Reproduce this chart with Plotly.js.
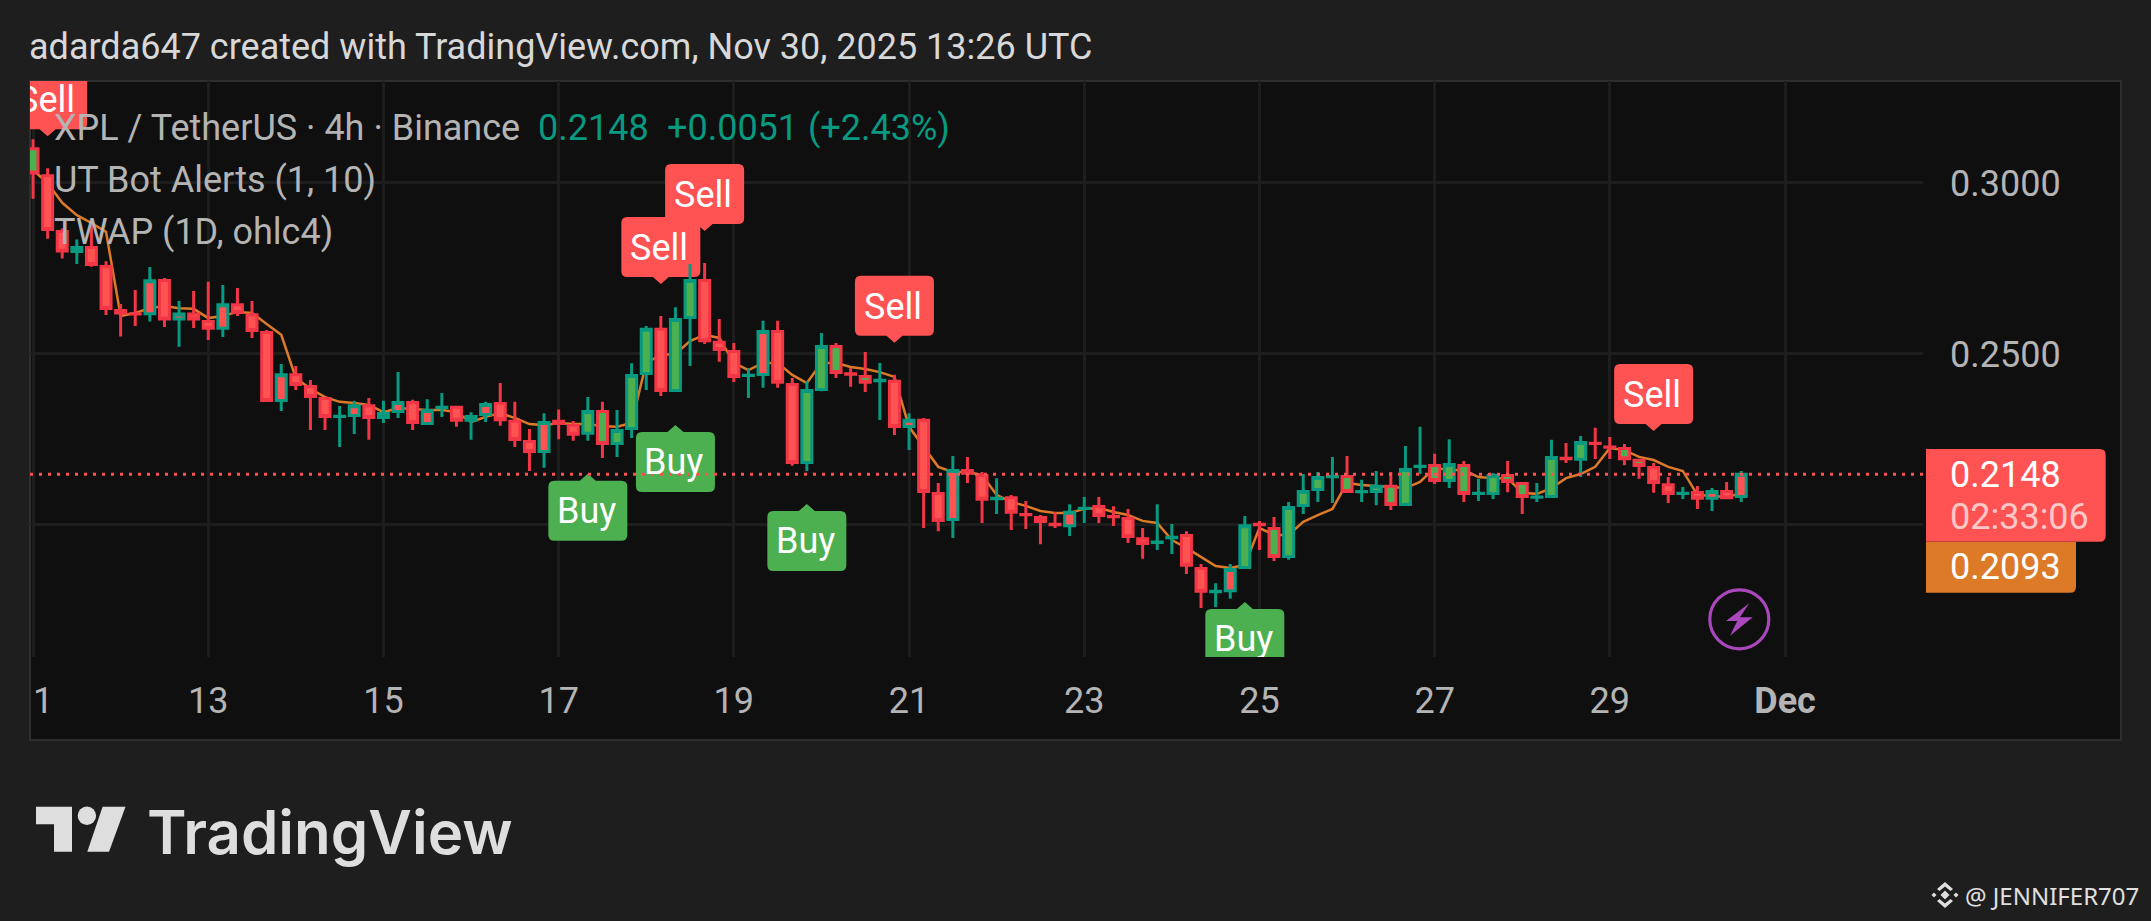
<!DOCTYPE html>
<html><head><meta charset="utf-8">
<script src="https://cdn.plot.ly/plotly-3.0.1.min.js"></script>
<style>html,body{margin:0;padding:0;background:#1e1e1e;overflow:hidden}</style></head>
<body><div id="chart" style="width:2151px;height:921px"></div>
<script>
// ---------- data (4h bars from 2025-11-11 00:00 UTC) ----------
const open = [.3100,.3021,.2858,.2800,.2811,.2756,.2627,.2618,.2618,.2715,.2602,.2617,.2595,.2575,.2644,.2615,.2563,.2364,.2439,.2405,
.2370,.2317,.2320,.2349,.2314,.2332,.2358,.2297,.2343,.2344,.2306,.2323,.2355,.2303,.2244,.2215,.2303,.2291,.2268,.2332,
.2238,.2282,.2443,.2572,.2393,.2607,.2715,.2534,.2507,.2437,.2440,.2566,.2411,.2183,.2396,.2522,.2442,.2434,.2422,.2420,
.2288,.2306,.2092,.2016,.2159,.2145,.2077,.2080,.2031,.2022,.2002,.1998,.2048,.2054,.2025,.2019,.1960,.1949,.1963,.1969,
.1873,.1805,.1808,.1876,.2002,.1990,.1908,.2057,.2104,.2141,.2142,.2097,.2098,.2113,.2060,.2171,.2174,.2130,.2174,.2092,
.2092,.2145,.2121,.2081,.2083,.2195,.2192,.2239,.2228,.2224,.2189,.2168,.2118,.2092,.2095,.2078,.2098,.2083];
const high = [.3128,.3043,.2867,.2835,.2882,.2771,.2646,.2687,.2754,.2722,.2655,.2684,.2711,.2702,.2693,.2655,.2570,.2471,.2465,.2424,
.2374,.2348,.2363,.2371,.2363,.2447,.2366,.2368,.2386,.2348,.2330,.2360,.2415,.2360,.2281,.2327,.2338,.2304,.2374,.2360,
.2336,.2473,.2582,.2611,.2637,.2763,.2766,.2602,.2532,.2459,.2597,.2597,.2430,.2421,.2561,.2532,.2459,.2506,.2474,.2439,
.2327,.2313,.2123,.2202,.2199,.2155,.2137,.2088,.2070,.2029,.2038,.2061,.2082,.2082,.2055,.2047,.1991,.2061,.2003,.1982,
.1886,.1830,.1886,.2026,.2012,.2023,.2067,.2149,.2155,.2199,.2202,.2132,.2158,.2155,.2231,.2287,.2208,.2251,.2187,.2135,
.2152,.2187,.2126,.2123,.2249,.2240,.2260,.2284,.2257,.2237,.2193,.2181,.2140,.2111,.2114,.2108,.2126,.2158];
const low = [.2954,.2837,.2779,.2763,.2755,.2614,.2551,.2582,.2595,.2579,.2521,.2576,.2541,.2550,.2611,.2547,.2360,.2333,.2395,.2278,
.2278,.2228,.2266,.2249,.2298,.2313,.2278,.2293,.2316,.2287,.2249,.2301,.2290,.2228,.2158,.2167,.2251,.2246,.2246,.2196,
.2199,.2254,.2395,.2377,.2389,.2465,.2529,.2477,.2418,.2371,.2401,.2401,.2173,.2158,.2391,.2430,.2404,.2389,.2307,.2263,
.2219,.1991,.1982,.1962,.2123,.2006,.2032,.1985,.1988,.1944,.1991,.1968,.2006,.2006,.1997,.1947,.1901,.1927,.1915,.1857,
.1757,.1760,.1784,.1871,.1927,.1895,.1898,.2032,.2067,.2064,.2094,.2067,.2058,.2044,.2056,.2149,.2120,.2108,.2067,.2070,
.2076,.2096,.2032,.2067,.2079,.2181,.2140,.2193,.2193,.2175,.2135,.2094,.2064,.2076,.2047,.2041,.2076,.2067];
const close = [.3029,.2864,.2801,.2811,.2762,.2633,.2620,.2617,.2714,.2602,.2617,.2602,.2575,.2644,.2621,.2569,.2364,.2439,.2411,.2376,
.2317,.2318,.2349,.2314,.2326,.2358,.2300,.2335,.2344,.2306,.2317,.2352,.2308,.2250,.2215,.2300,.2297,.2265,.2332,.2238,
.2276,.2437,.2572,.2393,.2601,.2715,.2539,.2513,.2434,.2438,.2566,.2417,.2183,.2393,.2522,.2446,.2441,.2417,.2423,.2288,
.2306,.2098,.2013,.2159,.2151,.2075,.2078,.2037,.2030,.2010,.2001,.2037,.2049,.2028,.2024,.1966,.1946,.1950,.1964,.1882,
.1806,.1806,.1870,.1998,.2001,.1908,.2051,.2098,.2139,.2142,.2098,.2098,.2113,.2060,.2162,.2172,.2130,.2177,.2092,.2093,
.2145,.2127,.2083,.2082,.2197,.2194,.2241,.2238,.2227,.2194,.2174,.2124,.2092,.2093,.2078,.2098,.2080,.2148];
const twap = [.3038,.3000,.2942,.2906,.2883,.2857,.2611,.2620,.2634,.2640,.2634,.2632,.2605,.2611,.2623,.2620,.2588,.2556,.2430,.2398,
.2374,.2360,.2357,.2351,.2330,.2342,.2339,.2336,.2336,.2330,.2301,.2316,.2327,.2313,.2295,.2292,.2298,.2295,.2295,.2289,
.2287,.2298,.2474,.2497,.2500,.2538,.2556,.2547,.2474,.2453,.2474,.2474,.2439,.2415,.2474,.2474,.2462,.2456,.2447,.2433,
.2287,.2228,.2170,.2155,.2155,.2146,.2088,.2067,.2056,.2041,.2035,.2035,.2047,.2050,.2038,.2029,.2012,.2006,.1956,.1933,
.1906,.1880,.1874,.1883,.1991,.1971,.1971,.2009,.2029,.2047,.2123,.2117,.2114,.2111,.2108,.2126,.2167,.2161,.2161,.2140,
.2137,.2137,.2094,.2091,.2108,.2137,.2149,.2170,.2225,.2219,.2199,.2190,.2170,.2158,.2088,.2085,.2082,.2093];
const sellBars = [1,43,46,59,111];
const buyBars = [38,44,53,83];
const lastPrice = .2148, twapPrice = .2093;
const xTickDates = ['2025-11-11','2025-11-13','2025-11-15','2025-11-17','2025-11-19','2025-11-21','2025-11-23','2025-11-25','2025-11-27','2025-11-29','2025-12-01'];
const xTickText = ['\u20071','13','15','17','19','21','23','25','27','29','<b>Dec</b>'];
const yTicks = [.2,.25,.3];
const yTickText = ['','0.2500','0.3000'];

// ---------- layout helpers (pixels of the 2151x921 page) ----------
const L=30,T=81,R=1923,B=657, PW=R-L, PH=B-T;
const px=x=>(x-L)/PW, py=y=>(B-y)/PH;
const C={paper:'#1e1e1e',pane:'#0f0f0f',grid:'#1d1d1d',frame:'#2e2e2e',axis:'#b4b4b4',title:'#d8d8d8',
 teal:'#089981',red:'#f23645',green:'#4caf50',sell:'#ff5252',orange:'#dc7a28',purple:'#ab47bc',logo:'#dedede'};
const FONT='Roboto, sans-serif';
const times = open.map((_,i)=>new Date(Date.UTC(2025,10,11)+i*4*3600e3).toISOString().slice(0,16).replace('T',' '));
const xRange=['2025-11-10 23:10','2025-12-02 13:48'];

function rr(x0,y0,x1,y1,tl,tr,br,bl){ // rounded box as a paper-coordinate path
 const p=(x,y)=>px(x).toFixed(6)+' '+py(y).toFixed(6);
 return 'M'+p(x0+tl,y0)+' L'+p(x1-tr,y0)+' Q'+p(x1,y0)+' '+p(x1,y0+tr)+' L'+p(x1,y1-br)+' Q'+p(x1,y1)+' '+p(x1-br,y1)+
  ' L'+p(x0+bl,y1)+' Q'+p(x0,y1)+' '+p(x0,y1-bl)+' L'+p(x0,y0+tl)+' Q'+p(x0,y0)+' '+p(x0+tl,y0)+' Z';
}
function poly(pts){return 'M'+pts.map(q=>px(q[0]).toFixed(6)+' '+py(q[1]).toFixed(6)).join(' L')+' Z';}
function paperShape(path,fill){return {type:'path',xref:'paper',yref:'paper',path,fillcolor:fill,line:{width:0},layer:'below'};}
function signalPath(s){ // s=+1 label above the anchor, s=-1 below; pixel units from the bar's high/low
 const g=s>0?32:33,h=7,H=60,w=39.5,r=6;
 const p=(x,y)=>x+' '+(s*y);
 return 'M'+p(0,g)+' L'+p(8,g+h)+' L'+p(w-r,g+h)+' Q'+p(w,g+h)+' '+p(w,g+h+r)+' L'+p(w,g+h+H-r)+' Q'+p(w,g+h+H)+' '+p(w-r,g+h+H)+
 ' L'+p(-w+r,g+h+H)+' Q'+p(-w,g+h+H)+' '+p(-w,g+h+H-r)+' L'+p(-w,g+h+r)+' Q'+p(-w,g+h)+' '+p(-w+r,g+h)+' L'+p(-8,g+h)+' Z';
}
function signalShape(i,s){
 return {type:'path',xref:'x',yref:'y',xsizemode:'pixel',ysizemode:'pixel',xanchor:times[i],yanchor:s>0?high[i]:low[i],
  path:signalPath(s),fillcolor:s>0?C.sell:C.green,line:{width:0},layer:'between'};
}
function signalText(i,s){
 return {xref:'x',yref:'y',x:times[i],y:s>0?high[i]:low[i],xshift:-1.5,yshift:s>0?68:-70,text:s>0?'Sell':'Buy',showarrow:false,
  xanchor:'center',yanchor:'middle',font:{family:FONT,size:36,color:'#ffffff'}};
}
function label(x,y,text,size,color,anchor,extra){
 return Object.assign({xref:'paper',yref:'paper',x:px(x),y:py(y),text,showarrow:false,xanchor:anchor||'left',yanchor:'middle',
  font:{family:FONT,size,color},borderpad:0,borderwidth:0},extra||{});
}

// ---------- candles: wick/border colour follows bar direction, body colour follows the UT Bot state ----------
const signals=[...sellBars.map(i=>[i,'R']),...buyBars.map(i=>[i,'G'])].sort((a,b)=>a[0]-b[0]);
const stateOf=i=>{let st='G';for(const [k,v] of signals){if(k<=i)st=v;}return st;};
function candleTrace(state,fill){
 const id=times.map((_,i)=>i).filter(i=>stateOf(i)===state);
 const pick=a=>id.map(i=>a[i]);
 return {type:'candlestick',x:pick(times),open:pick(open),high:pick(high),low:pick(low),close:pick(close),
  increasing:{line:{color:C.teal,width:3},fillcolor:fill},decreasing:{line:{color:C.red,width:3},fillcolor:fill},
  whiskerwidth:0,hoverinfo:'skip',showlegend:false,zorder:1};
}
const traces=[
 {type:'scatter',mode:'lines',x:times,y:twap,line:{color:C.orange,width:2.5},hoverinfo:'skip',showlegend:false,zorder:0},
 candleTrace('G',C.green),
 candleTrace('R',C.sell),
 {type:'scatter',mode:'lines',x:xRange,y:[lastPrice,lastPrice],line:{color:C.sell,width:3,dash:'3px,6px'},hoverinfo:'skip',showlegend:false,zorder:2}
];

const boltPts=[[1749.3,603.3],[1726,621],[1737.3,621],[1730,635.7],[1752.7,617.3],[1740,617.3]];
const shapes=[
 {type:'rect',xref:'paper',yref:'paper',x0:px(30),x1:px(2121),y0:py(740),y1:py(81),fillcolor:C.pane,line:{color:C.frame,width:2},layer:'below'},
 ...sellBars.map(i=>signalShape(i,1)),
 ...buyBars.map(i=>signalShape(i,-1)),
 paperShape(rr(1926,449,2105.7,541.7,0,6,6,0),C.sell),
 paperShape(rr(1926,542,2076,592.7,0,0,6,0),C.orange),
 {type:'circle',xref:'paper',yref:'paper',x0:px(1739.3-29.5),x1:px(1739.3+29.5),y0:py(619.3+29.5),y1:py(619.3-29.5),
  line:{color:C.purple,width:3.2},fillcolor:'rgba(0,0,0,0)',layer:'above'},
 {type:'path',xref:'paper',yref:'paper',path:poly(boltPts),fillcolor:C.purple,line:{width:0},layer:'above'},
 // TradingView mark
 paperShape(poly([[36,806.7],[72,806.7],[72,851.7],[54,851.7],[54,824.3],[36,824.3]]),C.logo),
 paperShape(poly([[102.6,806.7],[125.5,806.7],[109,851.7],[87.3,851.7]]),C.logo),
 {type:'circle',xref:'paper',yref:'paper',x0:px(77.7),x1:px(96.1),y0:py(824.9),y1:py(806.5),fillcolor:C.logo,line:{width:0},layer:'below'},
 // Binance mark
 paperShape(poly([[1945,890.5],[1949.5,895],[1945,899.5],[1940.5,895]]),C.logo),
 paperShape(poly([[1934,892.5],[1936.5,895],[1934,897.5],[1931.5,895]]),C.logo),
 paperShape(poly([[1956,892.5],[1958.5,895],[1956,897.5],[1953.5,895]]),C.logo),
 paperShape(poly([[1945,882],[1953,889],[1950.5,891],[1945,886.5],[1939.5,891],[1937,889]]),C.logo),
 paperShape(poly([[1945,908],[1953,901],[1950.5,899],[1945,903.5],[1939.5,899],[1937,901]]),C.logo)
];
const annotations=[
 ...sellBars.map(i=>signalText(i,1)),
 ...buyBars.map(i=>signalText(i,-1)),
 label(29,47,'adarda647 created with TradingView.com, Nov 30, 2025 13:26 UTC',36,C.title),
 label(54,128,'XPL / TetherUS · 4h · Binance',36,C.axis),
 label(538,128,'0.2148',36,C.teal),
 label(667,128,'+0.0051',36,C.teal),
 label(808,128,'(+2.43%)',36,C.teal),
 label(54,180,'UT Bot Alerts (1, 10)',36,C.axis),
 label(54,232,'TWAP (1D, ohlc4)',36,C.axis),
 label(1950,475,lastPrice.toFixed(4),36,'#ffffff'),
 label(1950,517,'02:33:06',36,'rgba(255,255,255,0.7)'),
 label(1950,567,twapPrice.toFixed(4),36,'#ffffff'),
 label(147,832,'TradingView',60,C.logo,'left',{font:{family:'Inter, sans-serif',size:60,color:C.logo,weight:600}}),
 label(1965,895.5,'@ JENNIFER707',24,'#e0e0e0','left',{font:{family:'"Noto Sans", sans-serif',size:24,color:'#e0e0e0'}})
];

const layout={
 width:2151,height:921,paper_bgcolor:C.paper,plot_bgcolor:C.pane,showlegend:false,
 margin:{l:L,r:2151-R,t:T,b:921-B,pad:0},boxgap:0.1,boxgroupgap:0.24,
 font:{family:FONT,color:C.axis,size:36},
 xaxis:{type:'date',range:xRange,rangeslider:{visible:false},tickmode:'array',tickvals:xTickDates,ticktext:xTickText,
  showgrid:true,gridcolor:C.grid,gridwidth:3,zeroline:false,showline:false,ticks:'',ticklabelstandoff:19,
  tickfont:{family:FONT,size:36,color:C.axis},automargin:false,fixedrange:true,tickangle:0},
 yaxis:{side:'right',range:[.1614,.32982],tickmode:'array',tickvals:yTicks,ticktext:yTickText,showgrid:true,gridcolor:C.grid,gridwidth:3,
  zeroline:false,showline:false,ticks:'',ticklabelstandoff:26,tickfont:{family:FONT,size:36,color:C.axis},automargin:false,fixedrange:true},
 shapes,annotations
};
const gd=document.getElementById('chart');
Plotly.newPlot(gd,traces,layout,{staticPlot:true,displayModeBar:false}).then(()=>{
 // signal labels end at the pane edge, as their boxes do
 const first=gd.querySelector('.annotation');
 if(!first)return;
 const svg=first.ownerSVGElement, ns='http://www.w3.org/2000/svg';
 const cp=document.createElementNS(ns,'clipPath');cp.setAttribute('id','paneClip');
 const r=document.createElementNS(ns,'rect');r.setAttribute('x',L);r.setAttribute('y',T);r.setAttribute('width',PW);r.setAttribute('height',PH);
 cp.appendChild(r);svg.appendChild(cp);
 gd.querySelectorAll('.annotation').forEach(a=>{const t=a.textContent.trim();if(t==='Sell'||t==='Buy')a.setAttribute('clip-path','url(#paneClip)');});
});
</script></body></html>
